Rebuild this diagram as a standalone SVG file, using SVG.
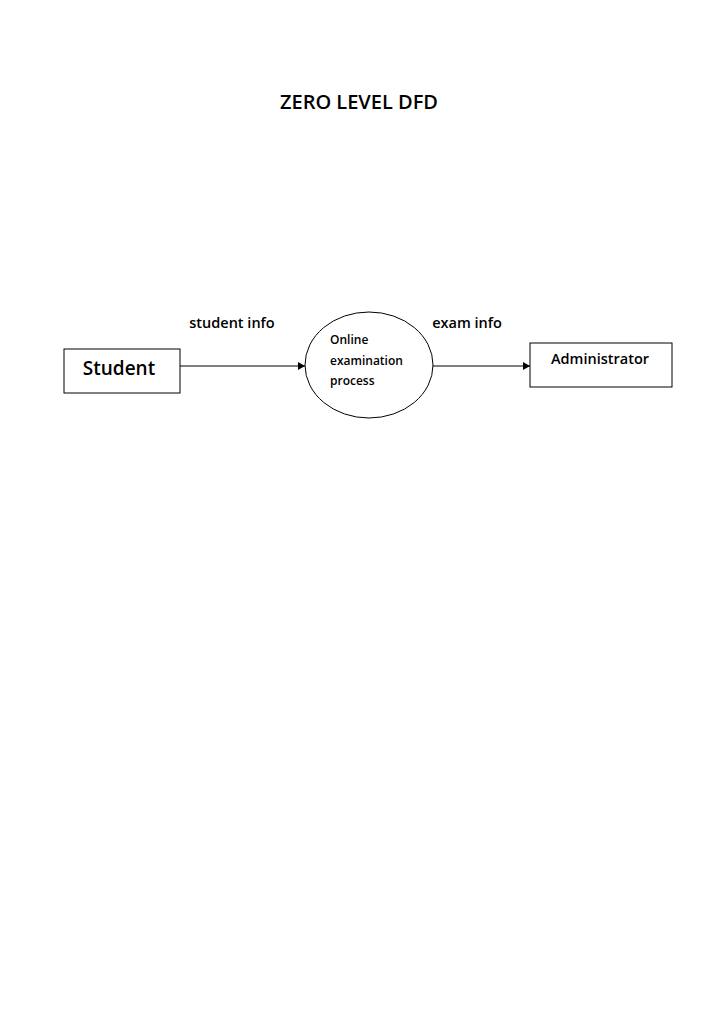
<svg xmlns="http://www.w3.org/2000/svg" width="719" height="1017" viewBox="0 0 719 1017">
<style>
text{font-family:"Open Sans","Liberation Sans",sans-serif;font-weight:600;fill:#000}
.box{fill:#fff;stroke:#000;stroke-width:1}
.flow{stroke:#000;stroke-width:1;fill:none;marker-end:url(#ah)}
</style>
<defs>
<marker id="ah" markerWidth="8" markerHeight="8" refX="7" refY="4" orient="auto" markerUnits="userSpaceOnUse">
<path d="M0,0 L7,4 L0,8 Z" fill="#000"/>
</marker>
</defs>
<rect width="719" height="1017" fill="#fff"/>
<text x="359" y="109" font-size="20" text-anchor="middle" font-weight="700">ZERO LEVEL DFD</text>
<g id="connectors">
<line class="flow" x1="180" y1="366" x2="305" y2="366"/>
<line class="flow" x1="433" y1="366" x2="530" y2="366"/>
<text x="232" y="328" font-size="14.5" text-anchor="middle">student info</text>
<text x="467" y="328" font-size="14.5" text-anchor="middle">exam info</text>
</g>
<g id="student">
<rect class="box" x="64" y="349" width="116" height="44"/>
<text x="119" y="375" font-size="19" text-anchor="middle">Student</text>
</g>
<g id="process">
<ellipse cx="369" cy="365" rx="64" ry="53" fill="#fff" stroke="#000" stroke-width="1"/>
<text x="330" y="344" font-size="12">Online</text>
<text x="330" y="365" font-size="12">examination</text>
<text x="330" y="385" font-size="12">process</text>
</g>
<g id="administrator">
<rect class="box" x="530" y="343" width="142" height="44"/>
<text x="600" y="364" font-size="14.5" text-anchor="middle">Administrator</text>
</g>
</svg>
